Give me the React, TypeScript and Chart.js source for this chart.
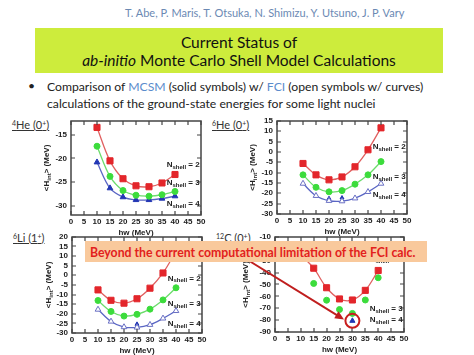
import React, { useEffect, useRef } from 'react';
import { Chart, registerables } from 'chart.js';
Chart.register(...registerables);

// ---------- data ----------
const HW = [10, 15, 20, 25, 30, 35, 40];
const X_TICKS = [0, 5, 10, 15, 20, 25, 30, 35, 40, 45, 50];

const HE4_TICKS = [-30, -25, -20, -15];
const HE4_N2 = [-13.4, -20.5, -24.3, -25.8, -26.0, -25.2, -23.4];
const HE4_N3 = [-17.4, -23.8, -26.8, -27.8, -28.0, -27.7, -27.0];
const HE4_N4 = [-20.8, -26.3, -28.2, -28.8, -28.8, -28.5, -28.0];

const HE6_TICKS = [-30, -25, -20, -15, -10, -5, 0, 5, 10, 15];
const HE6_N2 = [-5.6, -11.1, -13.5, -12.1, -7.2, 1.0, 11.6];
const HE6_N3 = [-11.1, -17.1, -19.3, -18.7, -15.6, -11.1, -4.7];
const HE6_N4_FCI = [-15.3, -21.2, -23.6, -23.8, -22.4, -19.3, -15.3];
const HE6_N4_MCSM_HW = [20, 25];
const HE6_N4_MCSM = [-22.5, -22.2];

const LI6_TICKS = [-30, -25, -20, -15, -10, -5, 0, 5, 10, 15, 20];
const LI6_N2 = [-7.6, -13.0, -14.5, -12.2, -6.7, 1.2, 12.5];
const LI6_N3 = [-13.1, -18.8, -21.2, -20.3, -17.6, -12.8, -6.5];
const LI6_N4_FCI = [-17.8, -24.0, -26.9, -27.1, -25.7, -22.4, -18.5];
const LI6_N4_MCSM_HW = [25];
const LI6_N4_MCSM = [-25.4];

const C12_TICKS = [-90, -80, -70, -60, -50, -40, -30, -20, -10];
const C12_N2 = [-25, -36.4, -52.8, -62.2, -63.1, -55.0, -38.3];
const C12_N3_HW = [15, 20, 25, 30, 35, 40];
const C12_N3 = [-49.2, -63.3, -71.1, -74.4, -63.1, -44.4];
const C12_N4_HW = [30];
const C12_N4 = [-80.6];

// ---------- styles ----------
const FONT = '"Liberation Sans", Arial, sans-serif';
const RED = '#e3262b';
const RED_LINE = '#e06060';
const GREEN = '#3cdc3c';
const GREEN_LINE = '#6cdc6c';
const BLUE = '#2236b4';
const BLUE_LINE = '#5a66c4';
const PURPLE = '#6a70c4';
const AXIS = '#444444';

const pts = (xs: number[], ys: number[]) => xs.map((x, i) => ({ x, y: ys[i] }));

const lineSet = (xs: number[], ys: number[], line: string, pt: string, style: string, r: number, fill = true) => ({
  data: pts(xs, ys),
  showLine: true,
  borderColor: line,
  backgroundColor: line,
  borderWidth: 1.3,
  fill: false,
  tension: 0.35,
  pointStyle: style,
  pointRadius: r,
  pointBorderWidth: 1,
  pointBorderColor: pt,
  pointBackgroundColor: fill ? pt : '#ffffff',
});
const dotSet = (xs: number[], ys: number[], pt: string, style: string, r: number) => ({
  data: pts(xs, ys),
  showLine: false,
  borderColor: pt,
  backgroundColor: pt,
  pointStyle: style,
  pointRadius: r,
  pointBorderWidth: 1,
  pointBorderColor: pt,
  pointBackgroundColor: pt,
});

type Panel = {
  L: number; R: number; T: number; B: number;
  yMin: number; yMax: number; yTicks: number[];
  yTitleOff: number;
  datasets: any[];
  labels: { n: string; x: number; y: number }[];
  ring?: { x: number; y: number };
  arrow?: { x1: number; y1: number; x2: number; y2: number };
};

const PANELS: Panel[] = [
  {
    L: 71, R: 201, T: 119.5, B: 214, yMin: -32, yMax: -12, yTicks: HE4_TICKS, yTitleOff: 24,
    datasets: [
      lineSet(HW, HE4_N2, RED_LINE, RED, 'rect', 4.3),
      lineSet(HW, HE4_N3, GREEN_LINE, GREEN, 'circle', 3),
      lineSet(HW, HE4_N4, BLUE_LINE, BLUE, 'triangle', 3.3),
    ],
    labels: [{ n: '2', x: 49.5, y: -21.4 }, { n: '3', x: 49.5, y: -25.2 }, { n: '4', x: 49.5, y: -29.6 }],
  },
  {
    L: 277, R: 406.5, T: 119.5, B: 213.5, yMin: -30, yMax: 15, yTicks: HE6_TICKS, yTitleOff: 24,
    datasets: [
      lineSet(HW, HE6_N2, RED_LINE, RED, 'rect', 4.3),
      lineSet(HW, HE6_N3, GREEN_LINE, GREEN, 'circle', 3),
      lineSet(HW, HE6_N4_FCI, BLUE_LINE, PURPLE, 'triangle', 3.3, false),
      dotSet(HE6_N4_MCSM_HW, HE6_N4_MCSM, BLUE, 'triangle', 2.3),
    ],
    labels: [{ n: '2', x: 49.5, y: 2.3 }, { n: '3', x: 49.5, y: -11.9 }, { n: '4', x: 49.5, y: -20.7 }],
  },
  {
    L: 72, R: 202, T: 236, B: 332.5, yMin: -30, yMax: 20, yTicks: LI6_TICKS, yTitleOff: 23,
    datasets: [
      lineSet(HW, LI6_N2, RED_LINE, RED, 'rect', 4.3),
      lineSet(HW, LI6_N3, GREEN_LINE, GREEN, 'circle', 3),
      lineSet(HW, LI6_N4_FCI, BLUE_LINE, PURPLE, 'triangle', 3.3, false),
      dotSet(LI6_N4_MCSM_HW, LI6_N4_MCSM, BLUE, 'triangle', 2.3),
    ],
    labels: [{ n: '2', x: 49.5, y: -1.6 }, { n: '3', x: 49.5, y: -14.7 }, { n: '4', x: 49.5, y: -25.2 }],
  },
  {
    L: 275, R: 404, T: 236, B: 332, yMin: -90, yMax: -10, yTicks: C12_TICKS, yTitleOff: 29,
    datasets: [
      lineSet(HW, C12_N2, RED_LINE, RED, 'rect', 4.3),
      dotSet(C12_N3_HW, C12_N3, GREEN, 'circle', 3),
      dotSet(C12_N4_HW, C12_N4, BLUE, 'triangle', 3),
    ],
    labels: [{ n: '2', x: 49.5, y: -28.5 }, { n: '3', x: 49.5, y: -70.6 }, { n: '4', x: 49.5, y: -80 }],
    ring: { x: 30, y: -80.6 },
    arrow: { x1: 230, y1: 249, x2: 344, y2: 319.5 },
  },
];

const CANVAS_PAD_L = 55;
const CANVAS_PAD_T = 8;
const CANVAS_PAD_R = 12;
const CANVAS_PAD_B = 26;

function drawParts(ctx: CanvasRenderingContext2D, parts: { t: string; sub?: boolean }[], x: number, y: number, align: 'left' | 'right' | 'center', size: number) {
  const main = `bold ${size}px ${FONT}`;
  const sub = `bold ${Math.round(size * 0.72)}px ${FONT}`;
  let total = 0;
  const widths = parts.map((p) => {
    ctx.font = p.sub ? sub : main;
    const w = ctx.measureText(p.t).width;
    total += w;
    return w;
  });
  let cx = align === 'left' ? x : align === 'right' ? x - total : x - total / 2;
  ctx.textBaseline = 'middle';
  ctx.textAlign = 'left';
  parts.forEach((p, i) => {
    ctx.font = p.sub ? sub : main;
    ctx.fillText(p.t, cx, p.sub ? y + size * 0.3 : y);
    cx += widths[i];
  });
}

function makeDecor(p: Panel) {
  return {
    id: 'decor',
    afterDraw(chart: any) {
      const { ctx, chartArea: a, scales } = chart;
      ctx.save();
      ctx.setLineDash([]);
      ctx.strokeStyle = AXIS;
      ctx.lineWidth = 1.5;
      const l = Math.round(a.left), t = Math.round(a.top);
      const r = Math.round(a.right), b = Math.round(a.bottom);
      ctx.strokeRect(l, t, r - l, b - t);
      ctx.lineWidth = 1.2;
      ctx.beginPath();
      X_TICKS.forEach((v) => {
        const x = Math.round(scales.x.getPixelForValue(v));
        ctx.moveTo(x, b); ctx.lineTo(x, b - 4);
        ctx.moveTo(x, t); ctx.lineTo(x, t + 4);
      });
      p.yTicks.forEach((v) => {
        const y = Math.round(scales.y.getPixelForValue(v));
        ctx.moveTo(l, y); ctx.lineTo(l + 4, y);
        ctx.moveTo(r, y); ctx.lineTo(r - 4, y);
      });
      ctx.stroke();

      ctx.fillStyle = '#222';
      drawParts(ctx, [{ t: 'hw (MeV)' }], (a.left + a.right) / 2, a.bottom + 18, 'center', 8);
      ctx.save();
      ctx.translate(a.left - p.yTitleOff, (a.top + a.bottom) / 2);
      ctx.rotate(-Math.PI / 2);
      drawParts(ctx, [{ t: '<H' }, { t: 'int', sub: true }, { t: '> (MeV)' }], 0, 0, 'center', 8);
      ctx.restore();
      p.labels.forEach((lb) => {
        drawParts(ctx, [{ t: 'N' }, { t: 'shell', sub: true }, { t: ' = ' + lb.n }], scales.x.getPixelForValue(lb.x), scales.y.getPixelForValue(lb.y), 'right', 8);
      });
      if (p.ring) {
        ctx.strokeStyle = '#c81e1e';
        ctx.lineWidth = 2;
        ctx.beginPath();
        ctx.arc(scales.x.getPixelForValue(p.ring.x), scales.y.getPixelForValue(p.ring.y), 7, 0, Math.PI * 2);
        ctx.stroke();
      }
      if (p.arrow) {
        const ox = Math.round(p.L - CANVAS_PAD_L), oy = Math.round(p.T - CANVAS_PAD_T);
        const x1 = p.arrow.x1 - ox, y1 = p.arrow.y1 - oy, x2 = p.arrow.x2 - ox, y2 = p.arrow.y2 - oy;
        const ang = Math.atan2(y2 - y1, x2 - x1);
        ctx.strokeStyle = '#c01e1e';
        ctx.fillStyle = '#c01e1e';
        ctx.lineWidth = 2;
        ctx.beginPath();
        ctx.moveTo(x1, y1);
        ctx.lineTo(x2 - 6 * Math.cos(ang), y2 - 6 * Math.sin(ang));
        ctx.stroke();
        ctx.beginPath();
        ctx.moveTo(x2, y2);
        ctx.lineTo(x2 - 9 * Math.cos(ang) + 4 * Math.sin(ang), y2 - 9 * Math.sin(ang) - 4 * Math.cos(ang));
        ctx.lineTo(x2 - 9 * Math.cos(ang) - 4 * Math.sin(ang), y2 - 9 * Math.sin(ang) + 4 * Math.cos(ang));
        ctx.closePath();
        ctx.fill();
      }
      ctx.restore();
    },
  };
}

function PanelChart({ p }: { p: Panel }) {
  const ref = useRef<HTMLCanvasElement>(null);
  const W = Math.round(p.R - p.L + CANVAS_PAD_L + CANVAS_PAD_R);
  const H = Math.round(p.B - p.T + CANVAS_PAD_T + CANVAS_PAD_B);
  useEffect(() => {
    if (!ref.current) return;
    const tickFont = { size: 8, weight: 'bold' as const, family: FONT };
    const chart = new Chart(ref.current, {
      type: 'line',
      data: { datasets: p.datasets },
      plugins: [makeDecor(p)],
      options: {
        responsive: false,
        animation: false,
        events: [],
        layout: { padding: { top: CANVAS_PAD_T, right: CANVAS_PAD_R, left: 0, bottom: 0 } },
        plugins: { legend: { display: false }, tooltip: { enabled: false } },
        scales: {
          x: {
            type: 'linear', min: 0, max: 50,
            grid: { display: false, drawTicks: false }, border: { display: false },
            ticks: { font: tickFont, color: '#222', padding: 2, maxRotation: 0, autoSkip: false },
            afterBuildTicks: (s: any) => { s.ticks = X_TICKS.map((v) => ({ value: v })); },
            afterFit: (s: any) => { s.height = CANVAS_PAD_B; },
          },
          y: {
            type: 'linear', min: p.yMin, max: p.yMax,
            grid: { display: false, drawTicks: false }, border: { display: false },
            ticks: { font: tickFont, color: '#222', padding: 4, autoSkip: false },
            afterBuildTicks: (s: any) => { s.ticks = p.yTicks.map((v) => ({ value: v })); },
            afterFit: (s: any) => { s.width = CANVAS_PAD_L; },
          },
        },
      } as any,
    });
    return () => chart.destroy();
  }, [p]);
  return (
    <canvas
      ref={ref}
      width={W}
      height={H}
      style={{ position: 'absolute', left: Math.round(p.L - CANVAS_PAD_L), top: Math.round(p.T - CANVAS_PAD_T), width: W, height: H }}
    />
  );
}

const titleStyle: React.CSSProperties = {
  position: 'absolute', fontSize: 11, color: '#333', textDecoration: 'underline', fontFamily: 'Lato, sans-serif', whiteSpace: 'nowrap', lineHeight: '12px',
};
const supStyle: React.CSSProperties = { fontSize: 7, verticalAlign: 'top', lineHeight: '8px' };

export default function App() {
  return (
    <div style={{ position: 'fixed', left: 0, top: 0, width: 474, height: 355, overflow: 'hidden', background: '#fff', fontFamily: 'Lato, sans-serif' }}>
      <div style={{ position: 'absolute', left: 125, top: 6, fontSize: 11, color: '#6b89b3', whiteSpace: 'nowrap', lineHeight: '14px' }}>
        T. Abe, P. Maris, T. Otsuka, N. Shimizu, Y. Utsuno, J. P. Vary
      </div>
      <div style={{ position: 'absolute', left: 35, top: 28, width: 408, height: 45, background: '#cdec3c' }} />
      <div style={{ position: 'absolute', left: 35, width: 408, top: 33, textAlign: 'center', fontSize: 15.5, lineHeight: '18px', color: '#111' }}>
        Current Status of
        <br />
        <i>ab-initio</i> Monte Carlo Shell Model Calculations
      </div>
      <div style={{ position: 'absolute', left: 28, top: 78, fontSize: 12.2, color: '#222' }}>•</div>
      <div style={{ position: 'absolute', left: 47, top: 78, fontSize: 12.2, lineHeight: '17px', color: '#222', whiteSpace: 'nowrap' }}>
        Comparison of <span style={{ color: '#5b8ccc' }}>MCSM</span> (solid symbols) w/ <span style={{ color: '#5b8ccc' }}>FCI</span> (open symbols w/ curves)
        <br />
        calculations of the ground-state energies for some light nuclei
      </div>

      <div style={{ ...titleStyle, left: 12, top: 119 }}><sup style={supStyle}>4</sup>He (0<sup style={supStyle}>+</sup>)</div>
      <div style={{ ...titleStyle, left: 212, top: 119 }}><sup style={supStyle}>6</sup>He (0<sup style={supStyle}>+</sup>)</div>
      <div style={{ ...titleStyle, left: 13, top: 232 }}><sup style={supStyle}>6</sup>Li (1<sup style={supStyle}>+</sup>)</div>
      <div style={{ ...titleStyle, left: 216, top: 232 }}><sup style={supStyle}>12</sup>C (0<sup style={supStyle}>+</sup>)</div>

      {PANELS.map((p, i) => <PanelChart key={i} p={p} />)}

      <div style={{ position: 'absolute', left: 85, top: 241, width: 342, height: 21, background: '#f9c99c' }} />
      <div style={{ position: 'absolute', left: 90, top: 241, height: 21, lineHeight: '21px', fontSize: 14, fontWeight: 'bold', color: '#e2211c', whiteSpace: 'nowrap', transform: 'scaleX(0.875)', transformOrigin: 'left center' }}>
        Beyond the current computational limitation of the FCI calc.
      </div>
    </div>
  );
}
